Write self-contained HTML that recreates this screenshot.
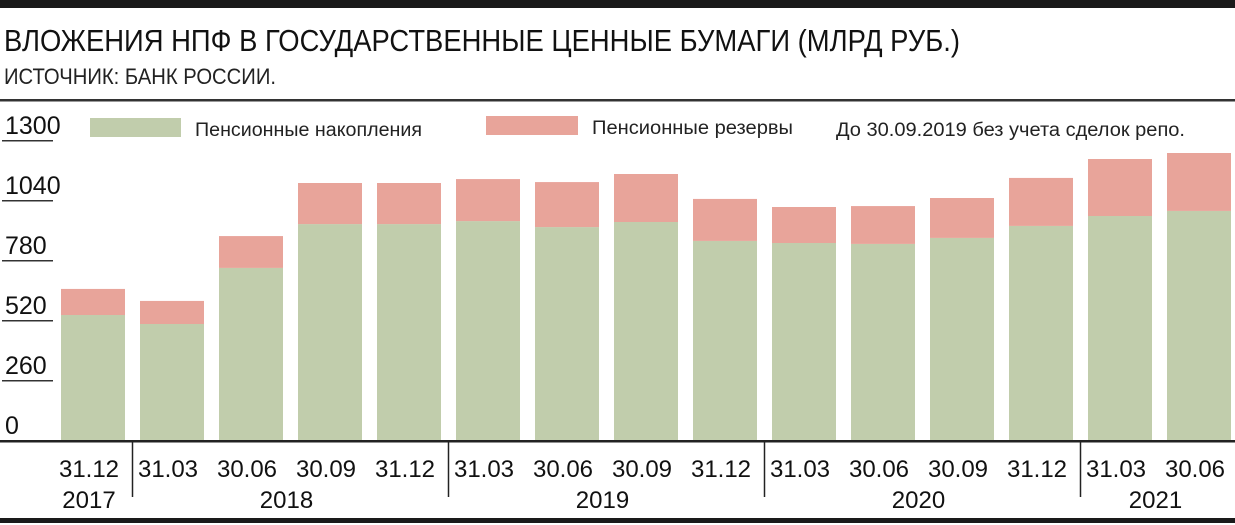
<!DOCTYPE html>
<html><head><meta charset="utf-8"><style>
html,body{margin:0;padding:0;background:#fff;}
svg{display:block;font-family:"Liberation Sans Narrow","Liberation Sans",sans-serif;}
</style></head><body>
<svg id="chart" width="1235" height="525" viewBox="0 0 1235 525">
<rect x="0" y="0" width="1235" height="8" fill="#1a1a1a"/>
<text x="4" y="51" font-size="31" fill="#111" textLength="956" lengthAdjust="spacingAndGlyphs">ВЛОЖЕНИЯ НПФ В ГОСУДАРСТВЕННЫЕ ЦЕННЫЕ БУМАГИ (МЛРД РУБ.)</text>
<text x="4" y="84" font-size="22" fill="#222" textLength="272" lengthAdjust="spacingAndGlyphs">ИСТОЧНИК: БАНК РОССИИ.</text>
<rect x="0" y="99" width="1235" height="2.5" fill="#333"/>
<g>
<rect x="90" y="118" width="91" height="19" fill="#c1cdac"/>
<text x="195" y="136" font-size="19" fill="#222" textLength="227" lengthAdjust="spacingAndGlyphs">Пенсионные накопления</text>
<rect x="486" y="116" width="92" height="19" fill="#e8a49a"/>
<text x="592" y="134" font-size="19" fill="#222" textLength="201" lengthAdjust="spacingAndGlyphs">Пенсионные резервы</text>
<text x="836" y="136" font-size="19" fill="#222" textLength="349" lengthAdjust="spacingAndGlyphs">До 30.09.2019 без учета сделок репо.</text>
</g>
<g id="yaxis"></g>
<g id="bars"></g>
<rect x="0" y="440" width="1235" height="2.5" fill="#222"/>
<g id="xaxis"></g>
<rect x="0" y="518" width="1235" height="5" fill="#1a1a1a"/>
</svg>
<script>
const dates = ["31.12","31.03","30.06","30.09","31.12","31.03","30.06","30.09","31.12","31.03","30.06","30.09","31.12","31.03","30.06"];
const accumulations = [546,507,750,940,940,953,927,949,867,858,854,880,932,975,997];
const reserves = [113,100,138,178,178,182,195,208,182,156,164,173,208,247,251];
const yTicks = [0,260,520,780,1040,1300];
const years = [{label:"2017",from:0,to:0},{label:"2018",from:1,to:4},{label:"2019",from:5,to:8},{label:"2020",from:9,to:12},{label:"2021",from:13,to:14}];

const NS="http://www.w3.org/2000/svg";
const y0=441, pxPerUnit=60/260;
function yScale(v){return y0 - v*pxPerUnit;}
const barX0=61, pitch=79, barW=64;
function xScale(i){return barX0 + i*pitch;}
function mk(tag,attrs,parent){const e=document.createElementNS(NS,tag);for(const k in attrs)e.setAttribute(k,attrs[k]);parent.appendChild(e);return e;}

const ya=document.getElementById('yaxis');
yTicks.forEach(t=>{
  const tx=mk('text',{x:5,y:yScale(t)-7,'font-size':25,fill:'#111'},ya);
  
  
  tx.textContent=t;
  if(t>0){
    const ln=mk('rect',{x:2,y:yScale(t)-1,width:51,height:1.5,fill:'#333'},ya);
    
    
  }
});

const bg=document.getElementById('bars');
dates.forEach((d,i)=>{
  const a=accumulations[i], r=reserves[i];
  const g=mk('rect',{x:xScale(i),y:yScale(a),width:barW,height:yScale(0)-yScale(a),fill:'#c1cdac'},bg);
  
  
  const rr=mk('rect',{x:xScale(i),y:yScale(a+r),width:barW,height:yScale(a)-yScale(a+r),fill:'#e8a49a'},bg);
  
  
});

const xa=document.getElementById('xaxis');
dates.forEach((d,i)=>{
  const t=mk('text',{x:xScale(i)+barW/2-4,y:477,'font-size':24,fill:'#111','text-anchor':'middle'},xa);
  
  
  t.textContent=d;
});
years.forEach((yr,k)=>{
  const cx=(xScale(yr.from)+xScale(yr.to)+barW)/2-4;
  const t=mk('text',{x:cx,y:508,'font-size':24,fill:'#111','text-anchor':'middle'},xa);
  
  
  t.textContent=yr.label;
  if(k<years.length-1){
    const sx=xScale(yr.to)+barW+(pitch-barW)/2;
    const s=mk('rect',{x:sx-0.75,y:442,width:1.5,height:55,fill:'#222'},xa);
    
    
  }
});
</script>
</body></html>
